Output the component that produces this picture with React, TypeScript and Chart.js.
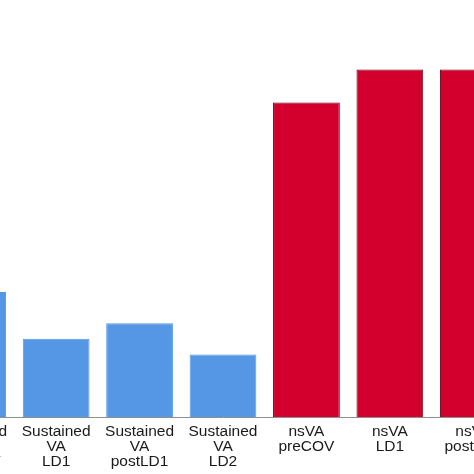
import React, { useEffect, useRef } from "react";
import Chart from "chart.js/auto";

// categories (the first and last are cut by the frame in the reference)
const categories: string[][] = [
  ["Sustained", "VA", "preCOV"],
  ["Sustained", "VA", "LD1"],
  ["Sustained", "VA", "postLD1"],
  ["Sustained", "VA", "LD2"],
  ["nsVA", "preCOV"],
  ["nsVA", "LD1"],
  ["nsVA", "postLD1"],
];

// bar heights (relative scale)
const values: number[] = [36, 22.5, 27, 18, 90.5, 100, 100];

const blue = "#5597e4";
const red = "#d3002e";
const barColors = values.map((_, i) => (i < 4 ? blue : red));
const borderColors = values.map((_, i) => (i < 4 ? blue : "#5c0614"));

const App = () => {
  const chartRef = useRef<HTMLCanvasElement | null>(null);
  const chartInstanceRef = useRef<Chart | null>(null);

  useEffect(() => {
    const ctx = chartRef.current?.getContext("2d");
    if (!ctx) return;

    if (chartInstanceRef.current) {
      chartInstanceRef.current.destroy();
    }

    chartInstanceRef.current = new Chart(ctx, {
      type: "bar",
      data: {
        labels: categories,
        datasets: [
          {
            data: values,
            backgroundColor: barColors,
            borderColor: borderColors,
            borderWidth: 1,
            categoryPercentage: 1,
            barPercentage: 0.8,
          },
        ],
      },
      options: {
        animation: false,
        responsive: true,
        maintainAspectRatio: false,
        layout: { padding: 0 },
        scales: {
          x: {
            grid: { display: false, drawTicks: false },
            border: { display: true, color: "#8f8f8f", width: 1 },
            ticks: {
              color: "#1a1a1a",
              padding: 7,
              maxRotation: 0,
              autoSkip: false,
              font: { family: "'Liberation Sans', Arial, sans-serif", size: 15.5, lineHeight: 0.97 },
            },
            afterFit: (scale: any) => {
              scale.height = 57;
            },
          },
          y: {
            display: false,
            min: 0,
            max: 120,
          },
        },
        plugins: {
          legend: { display: false },
          tooltip: { enabled: false },
        },
      },
    });

    return () => {
      if (chartInstanceRef.current) {
        chartInstanceRef.current.destroy();
        chartInstanceRef.current = null;
      }
    };
  }, []);

  return (
    <div
      style={{
        position: "fixed",
        left: 0,
        top: 0,
        width: 474,
        height: 474,
        overflow: "hidden",
        background: "#fff",
      }}
    >
      <div style={{ position: "absolute", left: -69, top: 0, width: 584, height: 474 }}>
        <canvas ref={chartRef}></canvas>
      </div>
    </div>
  );
};

export default App;
